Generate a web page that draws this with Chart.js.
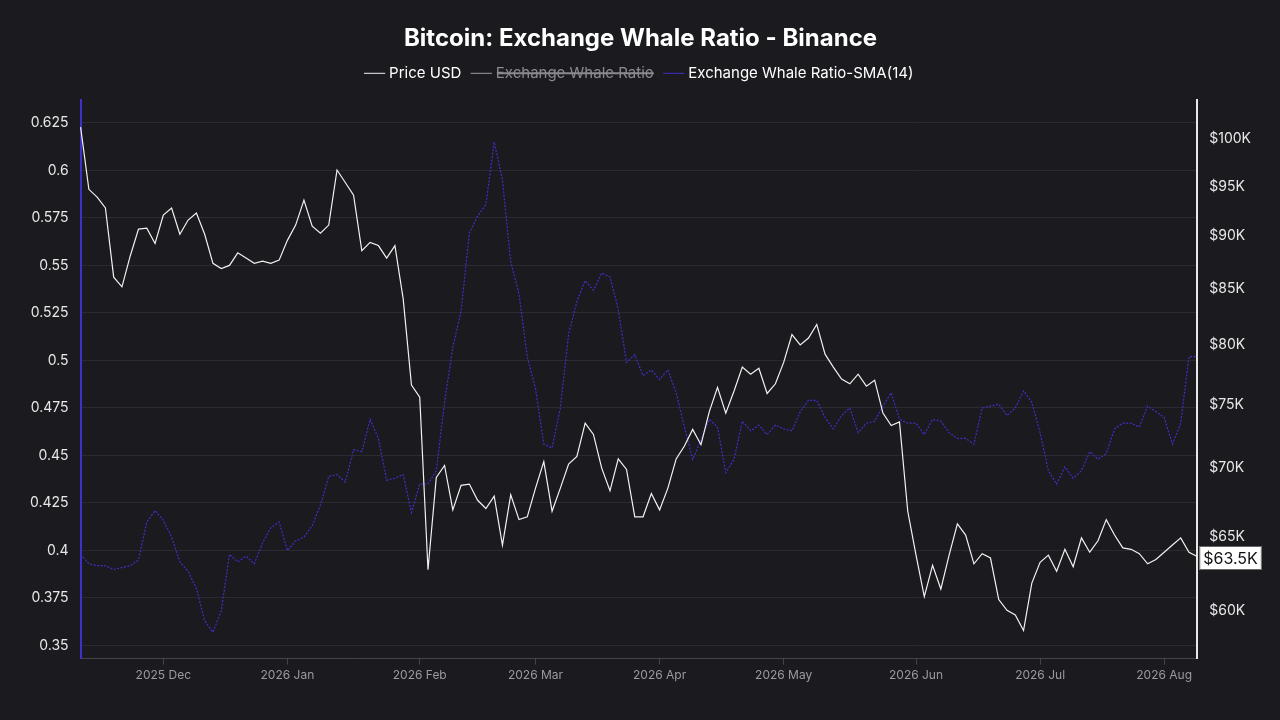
<!DOCTYPE html>
<html>
<head>
<meta charset="utf-8">
<script src="https://cdn.jsdelivr.net/npm/chart.js@4.4.1/dist/chart.umd.min.js"></script>
<style>
  html, body { margin: 0; padding: 0; background: #1a1a1f; }
  #wrap { width: 1280px; height: 720px; }
</style>
</head>
<body>
<div id="wrap"><canvas id="whaleChart"></canvas></div>
<script>
// Bitcoin: Exchange Whale Ratio - Binance (one point every 2 days from 2025-11-12)
const startDate = new Date(Date.UTC(2025, 10, 12));
const stepDays = 2;

// Price USD, in thousands
const priceK = [
  101.3, 94.7, 93.9, 92.8, 86.1, 85.2, 88.1, 90.7, 90.8, 89.3,
  92.1, 92.8, 90.2, 91.6, 92.3, 90.2, 87.4, 86.9, 87.2, 88.4,
  87.9, 87.4, 87.6, 87.4, 87.7, 89.6, 91.1, 93.6, 91.0, 90.3,
  91.1, 96.7, 95.4, 94.1, 88.6, 89.4, 89.1, 87.9, 89.1, 84.1,
  76.6, 75.6, 62.7, 69.3, 70.2, 66.9, 68.7, 68.8, 67.6, 67.0,
  67.9, 64.4, 68.0, 66.2, 66.4, 68.5, 70.5, 66.8, 68.5, 70.3,
  70.9, 73.5, 72.6, 70.0, 68.3, 70.7, 69.9, 66.4, 66.4, 68.1,
  66.9, 68.5, 70.7, 71.7, 73.0, 71.8, 74.4, 76.4, 74.3, 76.1,
  78.1, 77.5, 78.0, 75.9, 76.7, 78.5, 80.9, 80.0, 80.6, 81.8,
  79.2, 78.1, 77.1, 76.7, 77.5, 76.5, 77.0, 74.3, 73.3, 73.6,
  66.8, 63.7, 60.9, 63.0, 61.4, 63.7, 65.9, 65.1, 63.1, 63.8,
  63.5, 60.7, 60.0, 59.7, 58.7, 61.8, 63.2, 63.7, 62.6, 64.1,
  62.9, 64.9, 63.9, 64.7, 66.2, 65.1, 64.2, 64.1, 63.8, 63.1,
  63.4, 63.9, 64.4, 64.9, 63.9, 63.6
];

// Exchange Whale Ratio-SMA(14)
const whaleSma = [
  0.398, 0.393, 0.392, 0.392, 0.390, 0.391, 0.392, 0.395, 0.415, 0.421,
  0.416, 0.407, 0.394, 0.389, 0.380, 0.363, 0.357, 0.368, 0.398, 0.394,
  0.397, 0.393, 0.404, 0.412, 0.415, 0.400, 0.405, 0.407, 0.413, 0.424,
  0.439, 0.440, 0.436, 0.453, 0.452, 0.469, 0.459, 0.437, 0.438, 0.440,
  0.420, 0.435, 0.435, 0.442, 0.478, 0.507, 0.526, 0.567, 0.576, 0.582,
  0.615, 0.595, 0.552, 0.535, 0.502, 0.485, 0.456, 0.454, 0.475, 0.514,
  0.531, 0.542, 0.537, 0.546, 0.544, 0.527, 0.499, 0.503, 0.492, 0.495,
  0.490, 0.495, 0.483, 0.465, 0.448, 0.458, 0.469, 0.465, 0.441, 0.448,
  0.468, 0.463, 0.466, 0.461, 0.466, 0.464, 0.463, 0.473, 0.479, 0.479,
  0.470, 0.464, 0.471, 0.475, 0.462, 0.467, 0.468, 0.476, 0.483, 0.469,
  0.467, 0.467, 0.461, 0.469, 0.468, 0.462, 0.459, 0.459, 0.456, 0.475,
  0.476, 0.477, 0.471, 0.475, 0.484, 0.478, 0.462, 0.442, 0.435, 0.444,
  0.438, 0.442, 0.452, 0.448, 0.451, 0.464, 0.467, 0.467, 0.465, 0.476,
  0.473, 0.470, 0.456, 0.467, 0.502, 0.502
];

const leftTicks  = [0.35, 0.375, 0.4, 0.425, 0.45, 0.475, 0.5, 0.525, 0.55, 0.575, 0.6, 0.625];
const rightTicks = [60000, 65000, 70000, 75000, 80000, 85000, 90000, 95000, 100000];
const monthTicks = ['2025 Dec', '2026 Jan', '2026 Feb', '2026 Mar', '2026 Apr', '2026 May', '2026 Jun', '2026 Jul', '2026 Aug'];
const lastPriceLabel = 63500;

const MONTHS = ['Jan','Feb','Mar','Apr','May','Jun','Jul','Aug','Sep','Oct','Nov','Dec'];
const dates = priceK.map((_, i) => new Date(startDate.getTime() + i * stepDays * 86400000));
const labels = dates.map(d => `${d.getUTCFullYear()} ${MONTHS[d.getUTCMonth()]}`);
// first sample of each month gets a tick
const monthIdx = [];
dates.forEach((d, i) => {
  if (i > 0 && d.getUTCMonth() !== dates[i - 1].getUTCMonth()) monthIdx.push(i);
});

const PURPLE = '#3f30c8';
const fmtK = v => '$' + (Math.round(v / 100) / 10) + 'K';

const lastLabelPlugin = {
  id: 'lastLabel',
  afterDraw(chart) {
    const y1 = chart.scales.y1;
    const { ctx } = chart;
    const y = y1.getPixelForValue(lastPriceLabel);
    const x = y1.left + 2;
    ctx.save();
    ctx.font = '16px Inter, "Noto Sans", sans-serif';
    const text = fmtK(lastPriceLabel);
    const w = ctx.measureText(text).width + 8;
    ctx.fillStyle = '#ffffff';
    ctx.fillRect(x, y - 12, w, 24);
    ctx.strokeStyle = '#666';
    ctx.strokeRect(x + 0.5, y - 11.5, w - 1, 23);
    ctx.fillStyle = '#111';
    ctx.textBaseline = 'middle';
    ctx.fillText(text, x + 4, y + 1);
    ctx.restore();
  }
};

// extra room under the legend
const legendGap = {
  id: 'legendGap',
  afterInit(chart) {
    const fit = chart.legend.fit;
    chart.legend.fit = function () { fit.call(this); this.height += 9; };
  }
};

new Chart(document.getElementById('whaleChart').getContext('2d'), {
  type: 'line',
  data: {
    labels,
    datasets: [
      { label: 'Price USD', data: priceK.map(v => v * 1000), yAxisID: 'y1',
        borderColor: '#f2f2f2', borderWidth: 1.2, pointRadius: 0, tension: 0 },
      { label: 'Exchange Whale Ratio', data: [], yAxisID: 'y', hidden: true,
        borderColor: '#9a9aa0', borderWidth: 1.2, pointRadius: 0 },
      { label: 'Exchange Whale Ratio-SMA(14)', data: whaleSma, yAxisID: 'y',
        borderColor: PURPLE, borderWidth: 1.2, borderDash: [2, 1.5], pointRadius: 0, tension: 0 }
    ]
  },
  options: {
    responsive: true,
    maintainAspectRatio: false,
    animation: false,
    layout: { padding: { top: 16, left: 18, right: 17, bottom: 33 } },
    plugins: {
      title: {
        display: true, text: 'Bitcoin: Exchange Whale Ratio - Binance', color: '#ffffff',
        font: { family: 'Inter, "Noto Sans", sans-serif', size: 24, weight: 'bold' },
        padding: { top: 8, bottom: 0 }
      },
      legend: {
        position: 'top',
        labels: {
          color: '#ffffff',
          font: { family: 'Inter, "Noto Sans", sans-serif', size: 15 },
          usePointStyle: true, pointStyle: 'line', boxWidth: 14, padding: 13,
          generateLabels(chart) {
            const items = Chart.defaults.plugins.legend.labels.generateLabels(chart);
            items.forEach(it => {
              it.pointStyle = 'line';
              it.lineWidth = 1;
              it.fontColor = it.hidden ? '#8a8a90' : '#ffffff';
            });
            return items;
          }
        }
      },
      tooltip: { enabled: false }
    },
    scales: {
      x: {
        grid: { display: true, drawOnChartArea: false, drawTicks: true, tickLength: 6, color: '#44444a' },
        border: { color: '#44444a' },
        afterBuildTicks: axis => { axis.ticks = monthIdx.map(i => ({ value: i })); },
        ticks: {
          color: '#9a9aa0', font: { family: 'Inter, "Noto Sans", sans-serif', size: 12 },
          autoSkip: false, maxRotation: 0, padding: 4,
          callback: (v, i) => monthTicks[i] || ''
        }
      },
      y: {
        position: 'left', min: 0.3431, max: 0.6372,
        afterBuildTicks: axis => { axis.ticks = leftTicks.map(v => ({ value: v })); },
        grid: { color: '#2a2a31', drawTicks: false },
        border: { color: PURPLE, width: 2 },
        ticks: {
          color: '#e8e8e8', font: { family: 'Inter, "Noto Sans", sans-serif', size: 14 }, padding: 12,
          callback: v => String(Number(v.toFixed(3)))
        }
      },
      y1: {
        type: 'logarithmic', position: 'right', min: 56940, max: 104350,
        afterBuildTicks: axis => { axis.ticks = rightTicks.map(v => ({ value: v })); },
        grid: { drawOnChartArea: false, drawTicks: false },
        border: { color: '#e8e8e8', width: 2 },
        ticks: {
          color: '#e8e8e8', font: { family: 'Inter, "Noto Sans", sans-serif', size: 14 }, padding: 12,
          callback: v => '$' + (v / 1000) + 'K'
        }
      }
    }
  },
  plugins: [lastLabelPlugin, legendGap]
});
</script>
</body>
</html>
